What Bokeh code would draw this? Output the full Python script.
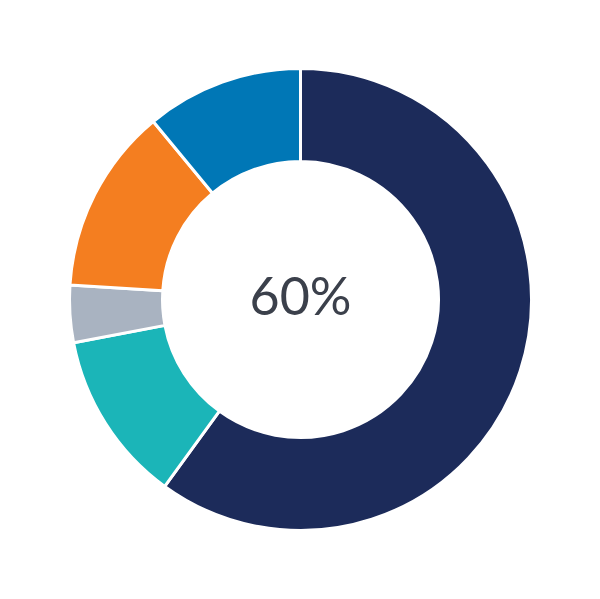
from bokeh.plotting import figure
from bokeh.models import ColumnDataSource, Range1d
from bokeh.core.properties import value
from bokeh.embed import file_html
from bokeh.resources import INLINE
import math

categories = ["A", "B", "C", "D", "E"]
shares = [60, 12, 4, 13, 11]
colors = ["#1c2b5a", "#1bb5b8", "#a9b3c1", "#f47e20", "#0077b6"]
center_label = "60%"

total = sum(shares)
starts, ends = [], []
acc = 0
for s in shares:
    starts.append(math.pi / 2 - acc / total * 2 * math.pi)
    acc += s
    ends.append(math.pi / 2 - acc / total * 2 * math.pi)

src = ColumnDataSource(dict(cat=categories, share=shares, color=colors, start=starts, end=ends))

p = figure(width=584, height=583, output_backend="svg", toolbar_location=None,
           x_range=Range1d(-300, 284), y_range=Range1d(-284, 299), min_border=0)
p.axis.visible = False
p.grid.visible = False
p.outline_line_color = None

p.annular_wedge(x=0, y=0, inner_radius=138, outer_radius=231, start_angle="start", end_angle="end",
                direction="clock", fill_color="color", line_color="white", line_width=3, source=src)

p.text(x=[0], y=[5], text=[center_label], text_font=value("Lato"), text_font_size="52px",
       text_color="#3b404b", text_align="center", text_baseline="middle")

open("out.html", "w").write(file_html(p, INLINE))
